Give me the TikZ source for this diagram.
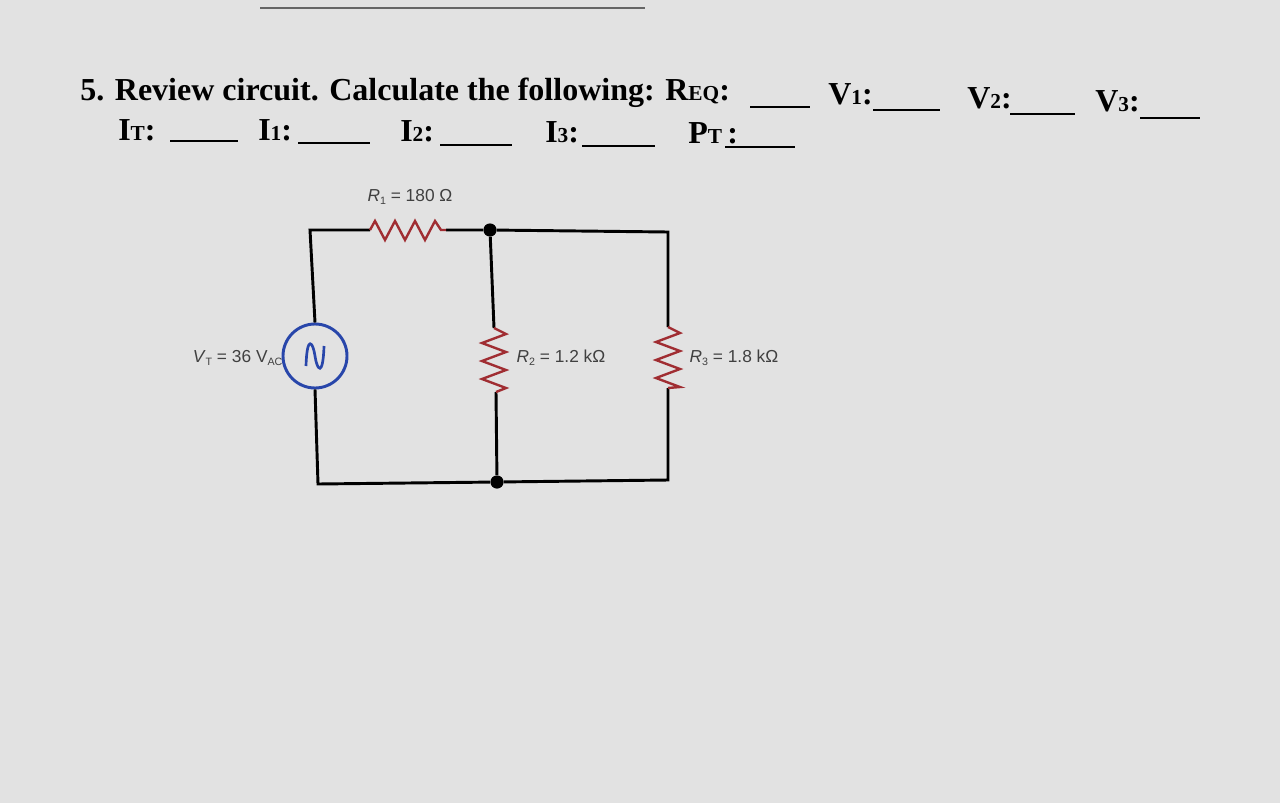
\documentclass[tikz,border=0pt]{standalone}
\usepackage{fontspec}
\usetikzlibrary{calc}
\setmainfont{Liberation Serif}
\setsansfont{Liberation Sans}
\definecolor{paper}{RGB}{226,226,226}
\definecolor{reswire}{RGB}{160,45,50}
\definecolor{srcblue}{RGB}{40,70,170}
\tikzset{
  wire/.style={line width=2.2},
  res/.style={line width=1.8, color=reswire, line join=miter},
  blank/.style={line width=1.1},
  qtext/.style={anchor=base west, inner sep=0pt, font=\fontsize{24}{28}\selectfont\bfseries},
  clabel/.style={inner sep=1pt, font=\sffamily\fontsize{13}{15}\selectfont, text=black!75}
}
\newcommand{\sbs}[1]{{\fontsize{16}{18}\selectfont #1}}
\newcommand{\lsub}[1]{\raisebox{-0.35ex}{\fontsize{8}{9}\selectfont #1}}
\begin{document}
\begin{tikzpicture}[x=0.75pt,y=0.75pt,yscale=-1,xscale=1]
	%paper
	\fill[paper] (0,0) rectangle (1280,803);
	\draw [line width=1.5, black!60] (260,8) -- (645,8) ;
	
	%Question text
	\node [qtext] (q1) at (80,100) {5. Review circuit. Calculate the following: R\sbs{EQ}:};
	\node [qtext] (v1) at (828,104) {V\sbs{1}:};
	\node [qtext] (v2) at (967,108) {V\sbs{2}:};
	\node [qtext] (v3) at (1095,111) {V\sbs{3}:};
	\node [qtext] (it) at (118,140) {I\sbs{T}:};
	\node [qtext] (i1) at (258,140) {I\sbs{1}:};
	\node [qtext] (i2) at (400,141) {I\sbs{2}:};
	\node [qtext] (i3) at (545,142) {I\sbs{3}:};
	\node [qtext] (pt) at (688,143) {P\sbs{T}\,:};
	%Blanks
	\draw [blank] (750,107) -- (810,107) ;
	\draw [blank] (873,110) -- (940,110) ;
	\draw [blank] (1010,114) -- (1075,114) ;
	\draw [blank] (1140,118) -- (1200,118) ;
	\draw [blank] (170,141) -- (238,141) ;
	\draw [blank] (298,143) -- (370,143) ;
	\draw [blank] (440,145) -- (512,145) ;
	\draw [blank] (582,146) -- (655,146) ;
	\draw [blank] (725,147) -- (795,147) ;
	
	%Circuit points
	\coordinate (tl) at (310,230);
	\coordinate (r1a) at (370,230);
	\coordinate (r1b) at (446,230);
	\node [circle, fill, inner sep=3.5pt] (jt) at (490,230) {};
	\coordinate (tr) at (668,232);
	\coordinate (r3a) at (668,327);
	\coordinate (r3b) at (668,388);
	\coordinate (br) at (668,480);
	\node [circle, fill, inner sep=3.5pt] (jb) at (497,482) {};
	\coordinate (r2a) at (494,328);
	\coordinate (r2b) at (496,392);
	\coordinate (bl) at (318,484);
	\node [circle, draw=srcblue, line width=2.2, minimum size=48] (src) at (315,356) {};
	
	%Wires
	\draw [wire] (src.north) -- (tl) -- (r1a) ;
	\draw [wire] (r1b) -- (jt) -- (tr) -- (r3a) ;
	\draw [wire] (r3b) -- (br) -- (jb) -- (bl) -- (src.south) ;
	\draw [wire] (jt) -- (r2a) ;
	\draw [wire] (r2b) -- (jb) ;
	
	%Resistors
	\draw [res] (r1a) -- ++(5,-9) -- ++(10,19) -- ++(10,-19) -- ++(10,19) -- ++(10,-19) -- ++(10,19) -- ++(10,-19) -- ++(6,9) -- (r1b) ;
	\draw [res] (r2a) -- ++(12,6) -- ++(-24,9) -- ++(24,9) -- ++(-24,9) -- ++(24,9) -- ++(-24,9) -- ++(24,9) -- (r2b) ;
	\draw [res] (r3a) -- ++(12,6) -- ++(-24,9) -- ++(24,9) -- ++(-24,9) -- ++(24,9) -- ++(-24,9) -- ++(24,9) -- (r3b) ;
	%AC sign
	\draw [srcblue, line width=2] ($(src.center)+(-9,10)$) .. controls ($(src.center)+(-8,-22)$) and ($(src.center)+(-2,-14)$) .. (src.center) .. controls ($(src.center)+(2,14)$) and ($(src.center)+(8,22)$) .. ($(src.center)+(9,-10)$) ;
	
	%Labels
	\node [clabel] (lr1) at (410,197) {\textit{R}\lsub{1} = 180 Ω};
	\node [clabel, anchor=east] (lvt) at (284,358) {\textit{V}\lsub{T} = 36 V\lsub{AC}};
	\node [clabel, anchor=west] (lr2) at (515,358) {\textit{R}\lsub{2} = 1.2 kΩ};
	\node [clabel, anchor=west] (lr3) at (688,358) {\textit{R}\lsub{3} = 1.8 kΩ};
\end{tikzpicture}
\end{document}
